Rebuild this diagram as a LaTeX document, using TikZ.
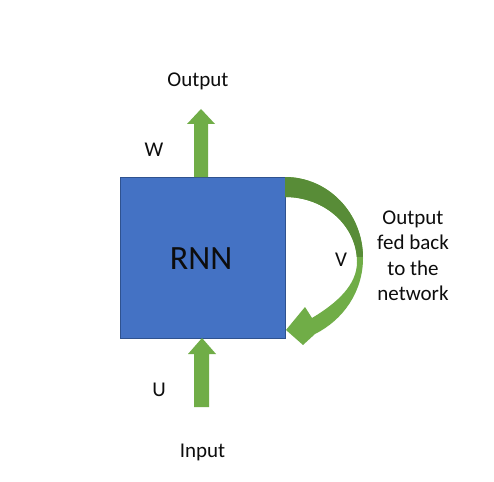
\documentclass[tikz,border=0pt]{standalone}
\usepackage{fontspec}
\setmainfont{Carlito}
\definecolor{boxblue}{HTML}{4472C4}
\definecolor{boxedge}{HTML}{2F528F}
\definecolor{arrgreen}{HTML}{70AD47}
\definecolor{arrdark}{HTML}{588C37}
\definecolor{txt}{HTML}{0D0D0D}
\begin{document}
\begin{tikzpicture}[x=1pt,y=-1pt,
  lbl/.style={text=txt,font=\fontsize{21}{25.5}\selectfont,inner sep=0pt,anchor=base},
  rnnbox/.style={fill=boxblue,draw=boxedge,line width=0.6pt,minimum width=165pt,minimum height=161pt,inner sep=0pt},
  garrow/.style={fill=arrgreen,draw=none}]
\useasboundingbox (0,0) rectangle (494,481);
\fill[white] (0,0) rectangle (494,481);
% box
\node[rnnbox] (rnn) at (202.5,257.5) {};
\node[text=txt,font=\fontsize{34}{40}\selectfont,inner sep=0pt,anchor=base] (rnnlbl) at (201,269) {RNN};
% top arrow
\fill[garrow] (194,177) -- (194,124) -- (187,124) -- (201,109) -- (215,124) -- (208,124) -- (208,177) -- cycle;
% bottom arrow
\fill[garrow] (194,407) -- (194,354) -- (188,354) -- (202,338) -- (216,354) -- (209,354) -- (209,407) -- cycle;
% curved arrow
\def\curvedarrow{(285,177) .. controls (328,177) and (363,213) .. (363,258)
  .. controls (363,292) and (343,320) .. (315,334)
  -- (303,345) -- (286,330) -- (305,307) -- (312,318)
  .. controls (337,303) and (357,285) .. (357,262)
  .. controls (357,226) and (325,197) .. (285,197) -- cycle}
\fill[garrow] \curvedarrow;
\begin{scope}
\clip (270,170) rectangle (380,256);
\fill[arrdark] \curvedarrow;
\end{scope}
% labels
\node[lbl] (out) at (198,87) {Output};
\node[lbl] (w) at (154,157) {W};
\node[lbl] (u) at (159,396) {U};
\node[lbl] (inp) at (202.5,457) {Input};
\node[lbl] (v) at (341,266) {V};
\node[lbl,align=center] (fed) at (413,300.5) {Output\\fed back\\to the\\network};
\end{tikzpicture}
\end{document}
